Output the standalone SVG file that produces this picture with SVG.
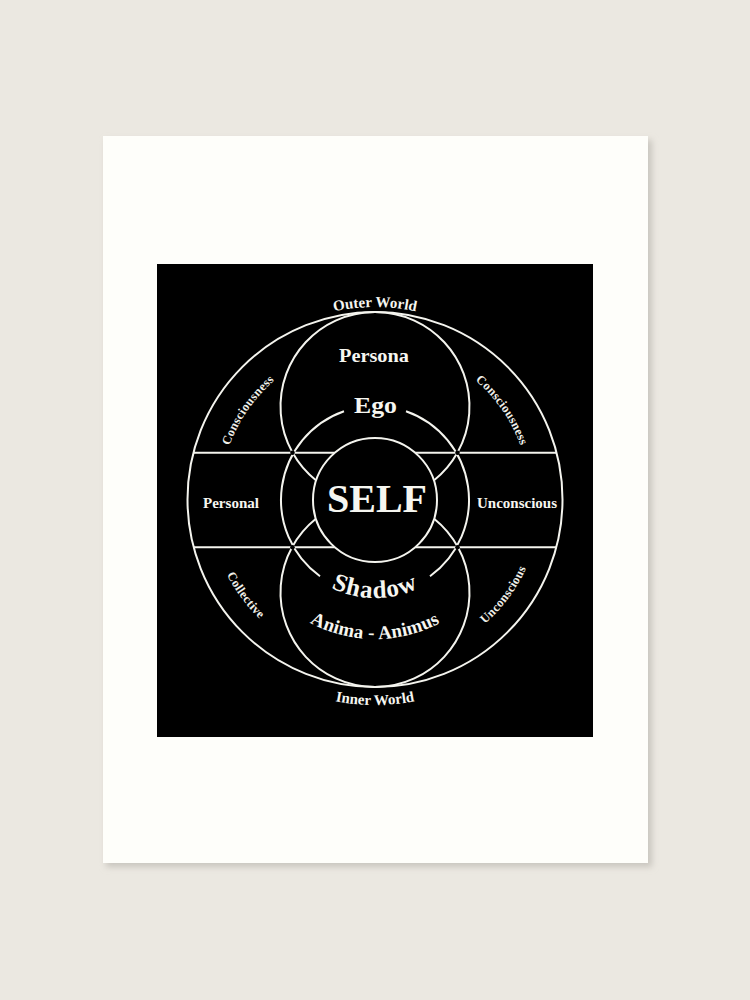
<svg xmlns="http://www.w3.org/2000/svg" width="750" height="1000" viewBox="0 0 750 1000">
  <defs>
    <filter id="shadow" x="-10%" y="-10%" width="120%" height="120%">
      <feGaussianBlur stdDeviation="3"/>
    </filter>
    <path id="pOuter" d="M 278.75 332.8 A 192.5 192.5 0 0 1 471.25 332.8"/>
    <path id="pInner" d="M 272.25 677.5 A 205.5 205.5 0 0 0 477.75 677.5"/>
    <path id="pConsL" d="M 220.6 485.9 A 156 156 0 0 1 309.1 358.1"/>
    <path id="pConsR" d="M 440.9 358.1 A 156 156 0 0 1 529.4 485.9"/>
    <path id="pColl" d="M 210.1 518.3 A 166 166 0 0 0 308.8 651.7"/>
    <path id="pUnc" d="M 441.2 651.7 A 166 166 0 0 0 539.9 518.3"/>
    <path id="pShadow" d="M 312.0 575.1 A 98 98 0 0 0 438.0 575.1"/>
    <path id="pAnima" d="M 295.3 613.9 A 139 139 0 0 0 454.7 613.9"/>
  </defs>
  <style>
    .ln { fill: none; stroke: #f4f4ee; stroke-width: 2; }
    .t { fill: #f6f6f0; font-family: "Liberation Serif", "Times New Roman", serif; font-weight: bold; text-anchor: middle; }
    .s { fill: #f0f0ea; font-family: "Liberation Serif", "Times New Roman", serif; font-weight: bold; font-size: 12.5px; letter-spacing: 0.3px; }
  </style>

  <!-- wall and print -->
  <rect x="0" y="0" width="750" height="1000" fill="#ebe8e1"/>
  <rect x="106" y="140" width="546" height="727" fill="#c9c6bf" filter="url(#shadow)"/>
  <rect x="103" y="136" width="545" height="727" fill="#fefefa"/>
  <rect x="157" y="264" width="436" height="473" fill="#000000"/>

  <!-- connectors / lines -->
  <g id="lines">
    <circle class="ln" cx="375" cy="499.5" r="187.5"/>
    <path class="ln" d="M 316.2 480.45 A 94.5 94.5 0 1 1 433.8 480.45"/>
    <path class="ln" d="M 315.9 518.76 A 94.5 94.5 0 1 0 434.1 518.76"/>
    <path class="ln" d="M 344 411.26 A 94 94 0 0 0 320 576.23"/>
    <path class="ln" d="M 406 411.26 A 94 94 0 0 1 430 576.23"/>
    <line class="ln" x1="193.4" y1="452.7" x2="334.9" y2="452.7"/>
    <line class="ln" x1="415.1" y1="452.7" x2="556.6" y2="452.7"/>
    <line class="ln" x1="193.4" y1="547.3" x2="334.9" y2="547.3"/>
    <line class="ln" x1="415.1" y1="547.3" x2="556.6" y2="547.3"/>
    <circle cx="292.5" cy="452.7" r="2.3" fill="#000"/>
    <circle cx="457.5" cy="452.7" r="2.3" fill="#000"/>
    <circle cx="292.5" cy="547.3" r="2.3" fill="#000"/>
    <circle cx="457.5" cy="547.3" r="2.3" fill="#000"/>
  </g>

  <g id="self">
    <circle class="ln" cx="375" cy="500" r="62"/>
    <text class="t" x="377" y="512" font-size="40" textLength="100" lengthAdjust="spacingAndGlyphs">SELF</text>
  </g>
  <g id="persona">
    <text class="t" x="374" y="362" font-size="19" textLength="70" lengthAdjust="spacingAndGlyphs">Persona</text>
  </g>
  <g id="ego">
    <text class="t" x="375.5" y="413" font-size="23" textLength="43" lengthAdjust="spacingAndGlyphs">Ego</text>
  </g>
  <g id="shadow-node">
    <text class="t" font-size="25" letter-spacing="1"><textPath href="#pShadow" startOffset="50%">Shadow</textPath></text>
  </g>
  <g id="anima">
    <text class="t" font-size="19" letter-spacing="0.2"><textPath href="#pAnima" startOffset="50%">Anima - Animus</textPath></text>
  </g>
  <g id="outer-world">
    <text class="t" font-size="15"><textPath href="#pOuter" startOffset="50%">Outer World</textPath></text>
  </g>
  <g id="inner-world">
    <text class="t" font-size="15"><textPath href="#pInner" startOffset="50%">Inner World</textPath></text>
  </g>
  <g id="personal">
    <text class="t" x="231" y="508" font-size="14" textLength="56" lengthAdjust="spacingAndGlyphs">Personal</text>
  </g>
  <g id="unconscious">
    <text class="t" x="517" y="508" font-size="14" textLength="80" lengthAdjust="spacingAndGlyphs">Unconscious</text>
  </g>
  <g id="consciousness-left">
    <text class="s" text-anchor="middle"><textPath href="#pConsL" startOffset="50%">Consciousness</textPath></text>
  </g>
  <g id="consciousness-right">
    <text class="s" text-anchor="middle"><textPath href="#pConsR" startOffset="50%">Consciousness</textPath></text>
  </g>
  <g id="collective">
    <text class="s" text-anchor="middle"><textPath href="#pColl" startOffset="50%">Collective</textPath></text>
  </g>
  <g id="unconscious-lower">
    <text class="s" text-anchor="middle"><textPath href="#pUnc" startOffset="50%">Unconscious</textPath></text>
  </g>
</svg>
